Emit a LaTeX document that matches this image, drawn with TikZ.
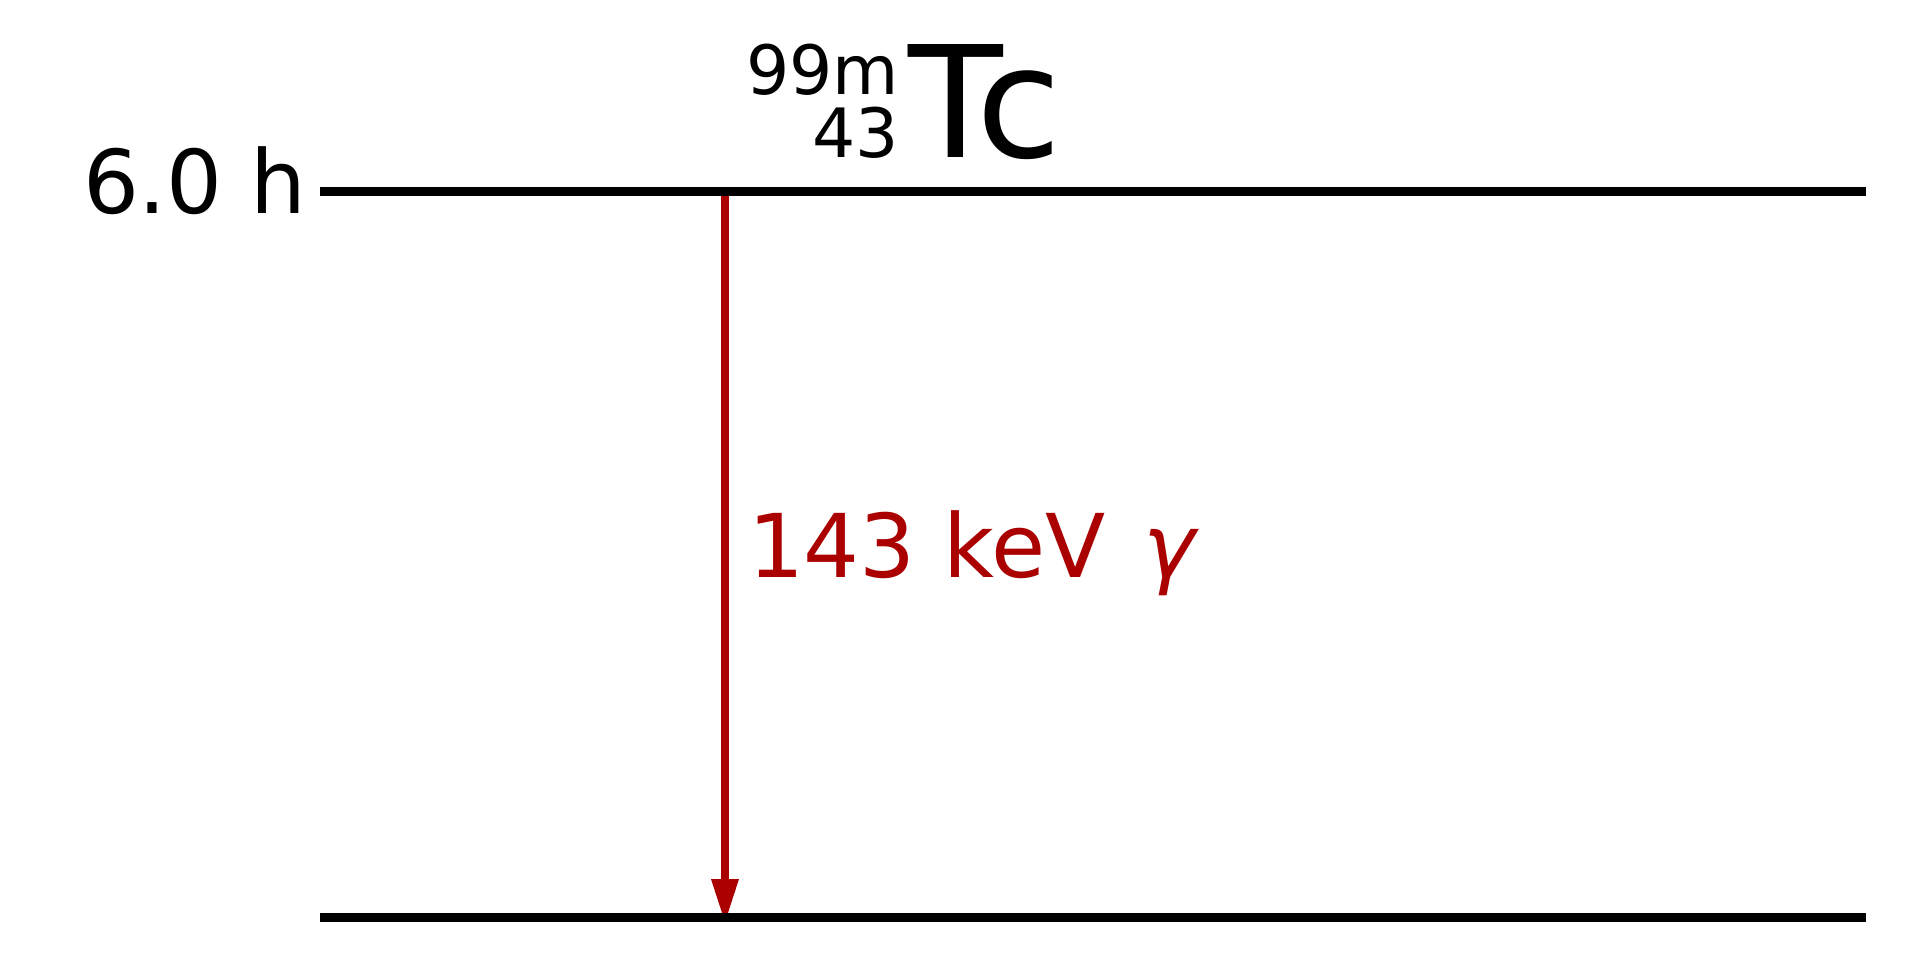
\documentclass[tikz,border=0pt]{standalone}
\usepackage{fontspec}
\setmainfont{DejaVu Sans}
\newfontfamily\obl{DejaVu Sans Oblique}
\definecolor{gred}{RGB}{170,0,0}
\tikzset{
  lvl/.style={line width=9bp, black},
  lbl/.style={inner sep=0pt, outer sep=0pt},
  big/.style={lbl, font=\fontsize{88bp}{100bp}\selectfont},
}
\begin{document}
\begin{tikzpicture}[x=1bp,y=-1bp]
\useasboundingbox (0,0) rectangle (1920,960);
% levels
\coordinate (t1) at (320,191.5);
\coordinate (t2) at (1866,191.5);
\coordinate (b1) at (320,917);
\coordinate (b2) at (1866,917);
\coordinate (as) at (725,196);
\coordinate (ae) at (725,880);
\coordinate (ahl) at (711,879);
\coordinate (ahr) at (739,879);
\coordinate (tip) at (725,922);
\draw[gred, line width=8bp] (as) -- (ae);
\fill[gred] (ahl) -- (ahr) -- (tip) -- cycle;
\draw[lvl] (t1) -- (t2);
\draw[lvl] (b1) -- (b2);
% labels
\node[big, anchor=base west] (hl) at (83,213) {6.0 h};
\node[big, anchor=base west, text=gred] (en) at (748,577) {143 keV};
\node[big, anchor=base west, text=gred] (ga) at (1143,577) {\obl γ};
\node[lbl, anchor=base east, font=\fontsize{68bp}{70bp}\selectfont] (ma) at (899,94) {99m};
\node[lbl, anchor=base east, font=\fontsize{68bp}{70bp}\selectfont] (za) at (899,157) {43};
\node[lbl, anchor=base west, font=\fontsize{155bp}{160bp}\selectfont] (el) at (908,157) {Tc};
\end{tikzpicture}
\end{document}
